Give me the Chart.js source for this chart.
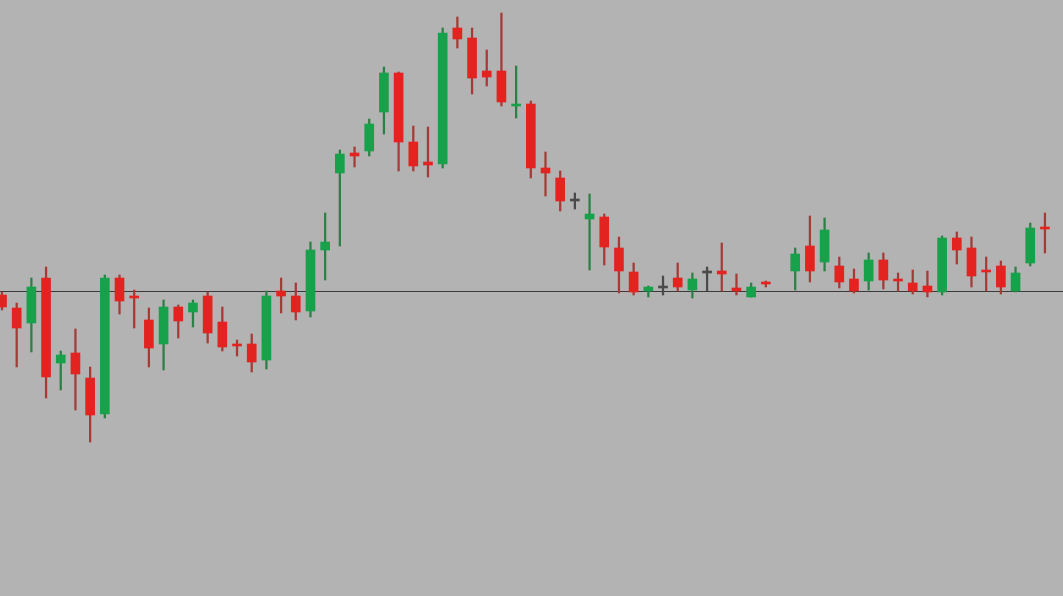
<!DOCTYPE html>
<html>
<head>
<meta charset="utf-8">
<script src="https://cdn.jsdelivr.net/npm/chart.js@4/dist/chart.umd.min.js"></script>
<style>
  html, body { margin: 0; padding: 0; background: #b3b3b3; }
  #wrap { width: 1063px; height: 596px; position: relative; }
</style>
</head>
<body>
<div id="wrap"><canvas id="c" width="1063" height="596"></canvas></div>
<script>
// Candle data (index = period number; null = missing period), prices
const opens  = [30.5,29.2,27.7,32.2,23.7,24.7,22.2,18.6,32.2,30.4,28.0,25.6,29.3,28.8,30.4,27.8,25.6,25.6,24.0,30.9,30.4,28.9,35.0,42.7,44.7,44.9,48.8,52.7,45.8,43.8,43.6,57.2,56.2,52.9,52.9,49.4,49.6,43.2,42.2,39.9,38.1,38.3,35.2,32.8,30.9,31.2,32.2,31.0,32.7,32.9,31.2,30.3,31.8,null,32.9,35.4,33.8,33.4,32.1,31.9,34.0,32.1,31.7,31.4,30.8,36.2,35.2,33.0,33.4,30.9,33.7,37.3];
const highs  = [30.8,29.7,32.2,33.3,24.9,27.1,23.3,32.5,32.5,31.0,29.2,30.0,29.5,30.0,30.8,29.3,26.0,26.6,30.9,32.2,31.7,35.8,38.7,45.0,45.3,48.1,53.3,52.8,47.4,47.3,57.2,58.3,57.2,55.0,58.7,53.4,49.9,44.8,42.9,40.7,40.6,38.6,36.3,33.7,31.4,32.4,33.7,32.7,33.3,35.7,32.6,31.7,31.9,null,35.2,38.4,38.2,34.3,33.1,34.7,34.7,32.7,33.0,32.9,36.4,36.8,36.3,34.3,33.9,33.3,37.7,38.7];
const lows   = [29.0,23.3,24.8,20.2,21.0,19.0,15.8,18.2,28.6,27.2,23.3,23.0,26.2,27.3,25.7,24.9,24.4,22.8,23.1,28.7,28.0,28.3,32.0,35.4,43.3,44.4,46.6,42.9,42.9,42.3,43.2,55.2,50.6,51.4,49.4,48.2,42.2,40.4,38.9,39.1,33.0,33.5,30.7,30.5,30.3,30.5,30.9,30.2,30.9,30.9,30.5,30.3,31.3,null,31.0,31.8,32.9,31.2,30.7,31.0,31.1,30.9,30.6,30.3,30.5,33.6,31.3,30.9,30.6,30.8,33.4,34.7];
const closes = [29.3,27.2,31.3,22.3,24.5,22.6,18.5,32.2,29.9,30.2,25.2,29.3,27.9,29.7,26.7,25.3,25.4,23.8,30.4,30.4,28.8,35.0,35.8,44.6,44.4,47.6,52.7,45.8,43.4,43.5,56.7,56.1,52.2,52.3,49.8,49.6,43.2,42.7,39.9,39.9,38.6,35.3,32.9,30.8,31.3,31.2,31.3,32.1,32.7,32.6,30.9,31.3,31.6,null,34.6,32.9,37.0,31.8,30.9,34.0,32.0,31.9,30.9,30.8,36.2,35.0,32.4,32.8,31.3,32.7,37.2,37.1];
const referenceLevel = 30.9;

const UP = '#17a14a', DOWN = '#e3231f', FLAT = '#4a4a4a';
const UP_WICK = '#2c7f45', DOWN_WICK = '#a63a36';

const idx = opens.map((_, i) => i).filter(i => opens[i] !== null);
const colorOf = i => closes[i] > opens[i] ? UP : (closes[i] < opens[i] ? DOWN : FLAT);
const wickColorOf = i => closes[i] > opens[i] ? UP_WICK : (closes[i] < opens[i] ? DOWN_WICK : FLAT);

const levelLine = {
  id: 'levelLine',
  beforeDatasetsDraw(chart) {
    const { ctx, scales: { y }, width } = chart;
    const py = Math.round(y.getPixelForValue(referenceLevel)) + 0.5;
    ctx.save();
    ctx.strokeStyle = '#3a3a3a';
    ctx.lineWidth = 1.2;
    ctx.beginPath();
    ctx.moveTo(0, py);
    ctx.lineTo(width, py);
    ctx.stroke();
    ctx.restore();
  }
};

new Chart(document.getElementById('c'), {
  type: 'bar',
  data: {
    datasets: [
      {
        label: 'wick',
        data: idx.map(i => ({ x: i, y: [lows[i], highs[i]] })),
        backgroundColor: idx.map(wickColorOf),
        barThickness: 1.6,
        grouped: false,
        order: 2
      },
      {
        label: 'body',
        data: idx.map(i => ({ x: i, y: [opens[i], closes[i]] })),
        backgroundColor: idx.map(colorOf),
        barThickness: 9,
        minBarLength: 2,
        grouped: false,
        order: 1
      }
    ]
  },
  plugins: [levelLine],
  options: {
    responsive: false,
    animation: false,
    maintainAspectRatio: false,
    layout: { padding: 0 },
    plugins: { legend: { display: false }, tooltip: { enabled: false } },
    scales: {
      x: { type: 'linear', display: false, min: -0.136, max: 72.23, offset: false },
      y: { display: false, min: 0.4, max: 60.0 }
    }
  }
});
</script>
</body>
</html>
